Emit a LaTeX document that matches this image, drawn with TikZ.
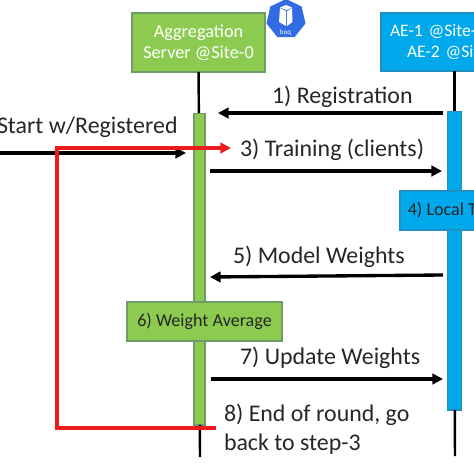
\documentclass[tikz,border=0pt]{standalone}
\usepackage{fontspec}
\setmainfont{Carlito}
\usetikzlibrary{arrows.meta, positioning, shapes.geometric}

\definecolor{srvgreen}{HTML}{8CCB50}
\definecolor{srvedge}{HTML}{6F9A6A}
\definecolor{aeblue}{HTML}{00A8EC}
\definecolor{aeedge}{HTML}{2090C0}
\definecolor{loopred}{HTML}{EC1C1C}
\definecolor{boqblue}{HTML}{326CE5}

\begin{document}
\begin{tikzpicture}[
    x=0.02cm, y=-0.02cm,
    every node/.style={inner sep=0pt, outer sep=0pt},
    srvbox/.style={rectangle, draw=srvedge, fill=srvgreen, line width=0.6pt, align=center},
    aebox/.style={rectangle, draw=aeedge, fill=aeblue, line width=0.6pt, align=center},
    hdr/.style={text=white, font=\fontsize{10.4}{12}\selectfont},
    msg/.style={font=\fontsize{13.6}{16.5}\selectfont, text=black!85, anchor=base west, align=left},
    inbox/.style={font=\fontsize{10.3}{12}\selectfont, text=black!85},
    flow/.style={-{Triangle[length=6pt, width=6pt]}, line width=1.9pt},
    back/.style={-{Triangle[length=6pt, width=6pt]}, line width=2.3pt, loopred},
    life/.style={line width=1.4pt},
]
\useasboundingbox (0,0) rectangle (474,474);
\clip (0,0) rectangle (474,474);

% Header boxes
\node[srvbox, hdr, minimum width=2.66cm, minimum height=1.18cm] (server) at (198.5,42.5) {Aggregation\\Server @Site-0};
\node[aebox, hdr, font=\fontsize{10}{12}\selectfont, align=left, inner xsep=0.18cm, text width=2.58cm, minimum height=1.16cm] (ae) at (454.5,42) {AE-1 @Site-1\\\hspace*{0.34cm}AE-2 @Site-2};

% Activation bars
\node[srvbox, minimum width=0.22cm, minimum height=6.24cm] (serverbar) at (199.5,269) {};
\node[aebox, minimum width=0.28cm, minimum height=5.98cm] (aebar) at (454.5,260.5) {};

% Lifelines
\coordinate (serverend) at (200,457);
\coordinate (aeend) at (455,456);
\draw[life] (server) -- (serverbar);
\draw[life] (ae) -- (aebar);
\draw[life] (serverbar) -- (serverend);
\draw[life] (aebar) -- (aeend);

% Boxes on the bars
\node[aebox, inbox, minimum width=2.68cm, minimum height=0.78cm] (localtrain) at (467,210.5) {4) Local Training};
\node[srvbox, inbox, minimum width=3.1cm, minimum height=0.78cm] (average) at (204.5,321.5) {6) Weight Average};

% Cube badge
\node[regular polygon, regular polygon sides=7, fill=boqblue, minimum size=0.8cm] (badge) at (286,19) {};
\fill[white] (280,8) -- (286,11) -- (286,26) -- (279,22) -- cycle;
\fill[white] (292,8) -- (287,11) -- (287,26) -- (292.5,22) -- cycle;
\fill[white] (286,5) -- (292,7.5) -- (286.5,10) -- (280,7.5) -- cycle;
\node[text=white, font=\fontsize{4}{4}\selectfont] (badgetext) at (285.5,32.5) {boq};

% Messages
\coordinate (reg0) at (443,113);
\coordinate (reg1) at (218,113);
\coordinate (start0) at (0,153);
\coordinate (start1) at (186,153);
\coordinate (train0) at (210,171);
\coordinate (train1) at (442,171);
\coordinate (wgt0) at (443,275);
\coordinate (wgt1) at (210,277);
\coordinate (upd0) at (211,379);
\coordinate (upd1) at (443,379);
\draw[flow] (reg0) -- (reg1);
\draw[flow] (start0) -- (start1);
\draw[flow] (train0) -- (train1);
\draw[flow] (wgt0) -- (wgt1);
\draw[flow] (upd0) -- (upd1);

% Return to step 3
\coordinate (loop0) at (216,428);
\coordinate (loop1) at (57,428);
\coordinate (loop2) at (57,148);
\coordinate (loop3) at (231,148);
\draw[back] (loop0) -- (loop1) -- (loop2) -- (loop3);

% Labels
\node[msg] (reglabel) at (272,103) {1) Registration};
\node[msg] (startlabel) at (-3,133) {Start w/Registered};
\node[msg] (trainlabel) at (240,156) {3) Training (clients)};
\node[msg] (wgtlabel) at (233,263) {5) Model Weights};
\node[msg] (updlabel) at (240,364) {7) Update Weights};
\node[msg] (endlabel) at (224,450) {8) End of round, go\\back to step-3};
\end{tikzpicture}
\end{document}
